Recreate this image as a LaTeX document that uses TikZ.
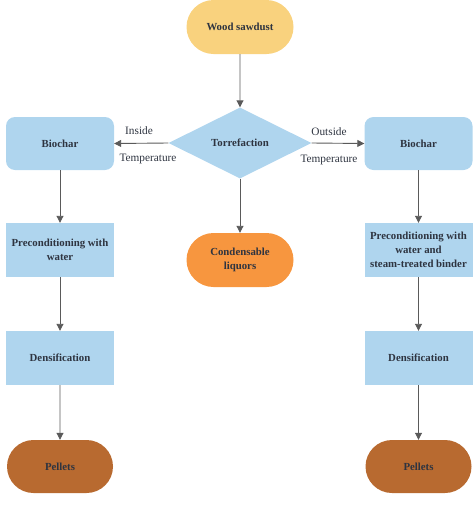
\documentclass[tikz,border=0pt]{standalone}
\usepackage{fontspec}
\setmainfont{Liberation Serif}
\usetikzlibrary{shapes.geometric,shapes.misc,arrows.meta}
\definecolor{sawdust}{HTML}{F9D27E}
\definecolor{boxblue}{HTML}{AFD5EE}
\definecolor{liquor}{HTML}{F7963F}
\definecolor{pellet}{HTML}{B86A30}
\definecolor{txt}{HTML}{2E3440}
\definecolor{arr}{HTML}{5A5A5A}
\tikzset{
  x=1pt,y=-1pt,
  lbl/.style={font=\fontsize{10.8}{13.8}\selectfont\bfseries, text=txt, align=center},
  stadium/.style={lbl, rounded rectangle, minimum width=107pt, minimum height=54pt, inner sep=0pt},
  rbox/.style={lbl, rectangle, rounded corners=9pt, fill=boxblue, minimum width=108pt, minimum height=53pt, inner sep=0pt},
  sbox/.style={lbl, rectangle, fill=boxblue, minimum width=108pt, minimum height=54pt, inner sep=0pt},
  flow/.style={draw=arr, line width=0.9pt, -{Triangle[length=7pt,width=7pt]}},
  side/.style={font=\fontsize{11.3}{12}\selectfont, text=txt}
}
\begin{document}
\begin{tikzpicture}
\useasboundingbox (0,0) rectangle (474,509);
\node[stadium, fill=sawdust] (saw) at (240,27) {Wood sawdust};
\node[lbl, diamond, aspect=2, fill=boxblue, minimum width=143pt, minimum height=71pt, inner sep=0pt] (tor) at (240,143) {Torrefaction};
\node[rbox] (bl) at (60,143.5) {Biochar};
\node[rbox] (br) at (418.5,143.5) {Biochar};
\node[sbox] (pl) at (60,250) {Preconditioning with\\water};
\node[sbox] (pr) at (418.5,250) {Preconditioning with\\water and\\steam-treated binder};
\node[stadium, fill=liquor] (liq) at (240,260) {Condensable\\liquors};
\node[sbox] (dl) at (60,358) {Densification};
\node[sbox] (dr) at (418.5,358) {Densification};
\node[stadium, fill=pellet, minimum width=106pt, minimum height=53pt] (pel) at (60,466.5) {Pellets};
\node[stadium, fill=pellet, minimum width=106pt, minimum height=53pt] (per) at (418.5,466.5) {Pellets};
\draw[flow] (saw) -- (tor);
\draw[flow] (tor) -- (liq);
\draw[flow] (tor.west) -- (bl.east);
\draw[flow] (tor.east) -- (br.east -| br.west);
\draw[flow] (bl) -- (pl);
\draw[flow] (pl) -- (dl);
\draw[flow] (dl) -- (pel);
\draw[flow] (br) -- (pr);
\draw[flow] (pr) -- (dr);
\draw[flow] (dr) -- (per);
\node[side] (in) at (139,131) {Inside};
\node[side] (tl) at (148,159) {Temperature};
\node[side] (out) at (329,132) {Outside};
\node[side] (tr) at (329,160) {Temperature};
\end{tikzpicture}
\end{document}
